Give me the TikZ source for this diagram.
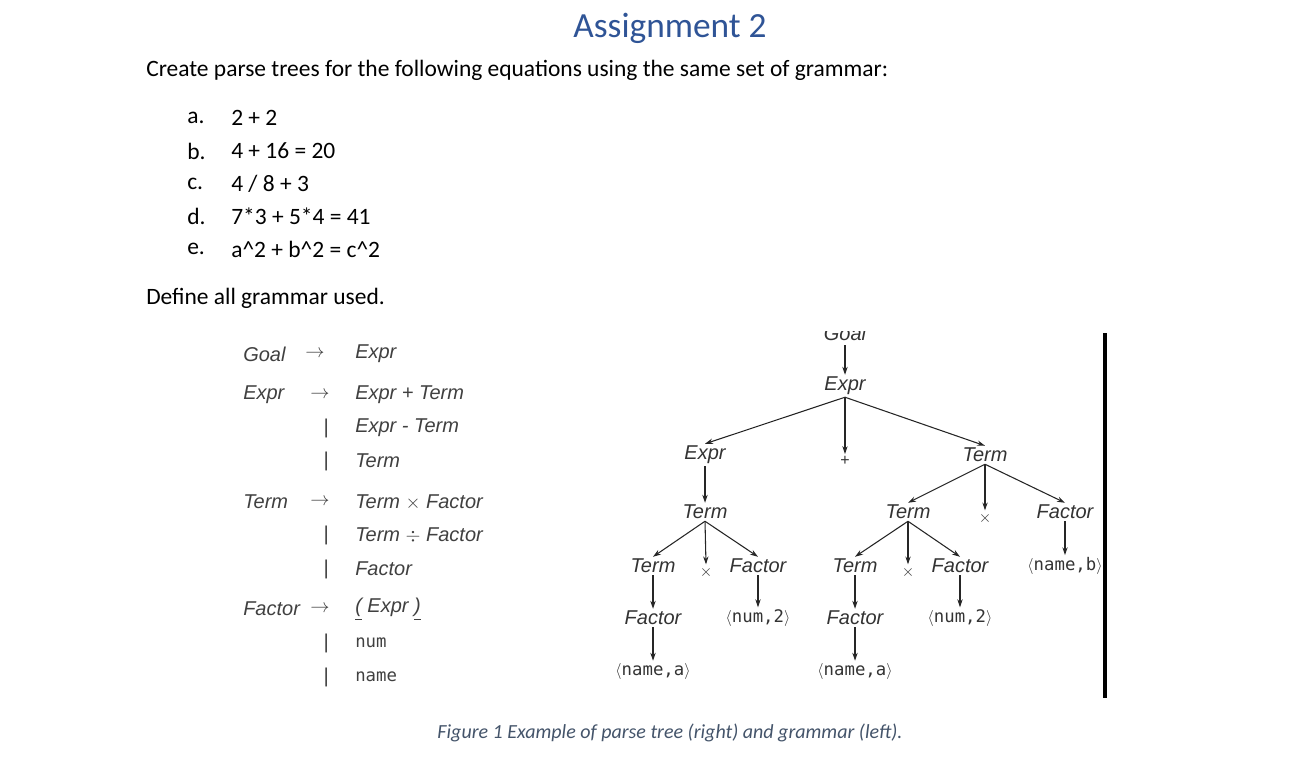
\documentclass[tikz,border=0pt]{standalone}
\usepackage{fontspec}
\setmainfont{Carlito}
\newfontfamily\gsans{Liberation Sans}
\newfontfamily\gmono{DejaVu Sans Mono}
\usetikzlibrary{arrows.meta}
\definecolor{titleblue}{RGB}{47,84,150}
\definecolor{capblue}{RGB}{68,84,106}
\begin{document}
\begin{tikzpicture}[x=0.75pt,y=-0.75pt,
  body/.style={anchor=west,inner sep=0,font=\fontsize{17.6}{20}\selectfont},
  gr/.style={anchor=west,inner sep=0,font=\gsans\itshape\fontsize{15}{17}\selectfont,text=black!75},
  gm/.style={anchor=west,inner sep=0,font=\gmono\fontsize{13}{15}\selectfont,text=black!75},
  tn/.style={inner sep=1.5pt,font=\gsans\itshape\fontsize{15}{17}\selectfont,text=black!80},
  tm/.style={inner sep=1.5pt,font=\gmono\fontsize{13}{15}\selectfont,text=black!80},
  op/.style={inner sep=1.5pt,font=\gsans\fontsize{12}{14}\selectfont,text=black!80},
  arr/.style={-{Stealth[length=6pt,width=4pt]},line width=0.8pt,black!85}]
\useasboundingbox (0,0) rectangle (1309,775);
\node[font=\fontsize{26.5}{30}\selectfont,text=titleblue] (title) at (670,28) {Assignment 2};
\node[body] (intro) at (146,70) {Create parse trees for the following equations using the same set of grammar:};
\node[body] (l1) at (187,118) {a.}; \node[body] (t1) at (231,118) {2 + 2};
\node[body] (l2) at (187,151) {b.}; \node[body] (t2) at (231,151) {4 + 16 = 20};
\node[body] (l3) at (187,184) {c.}; \node[body] (t3) at (231,184) {4 / 8 + 3};
\node[body] (l4) at (187,216) {d.}; \node[body] (t4) at (231,216) {7*3 + 5*4 = 41};
\node[body] (l5) at (187,249) {e.}; \node[body] (t5) at (231,249) {a\^{}2 + b\^{}2 = c\^{}2};
\node[body] (define) at (146,298) {Define all grammar used.};
% grammar
\node[gr] (g1) at (243,354) {Goal}; \node[gr] (a1) at (305,354) {$\rightarrow$}; \node[gr] (r1) at (355,354) {Expr};
\node[gr] (g2) at (243,395) {Expr}; \node[gr] (a2) at (310,395) {$\rightarrow$}; \node[gr] (r2) at (355,395) {Expr + Term};
\node[gr] (b3) at (323,428) {|}; \node[gr] (r3) at (355,428) {Expr - Term};
\node[gr] (b4) at (323,461) {|}; \node[gr] (r4) at (355,461) {Term};
\node[gr] (g5) at (243,502) {Term}; \node[gr] (a5) at (310,502) {$\rightarrow$}; \node[gr] (r5) at (355,502) {Term $\times$ Factor};
\node[gr] (b6) at (323,535) {|}; \node[gr] (r6) at (355,535) {Term $\div$ Factor};
\node[gr] (b7) at (323,569) {|}; \node[gr] (r7) at (355,569) {Factor};
\node[gr] (g8) at (243,609) {Factor}; \node[gr] (a8) at (310,609) {$\rightarrow$}; \node[gr] (r8) at (355,609) {\underline{(} Expr \underline{)}};
\node[gr] (b9) at (323,643) {|}; \node[gm] (r9) at (355,643) {num};
\node[gr] (b10) at (323,677) {|}; \node[gm] (r10) at (355,677) {name};
% tree
\begin{scope}
\clip (600,331) rectangle (1100,360);
\node[tn] (goal) at (845,333) {Goal};
\end{scope}
\node[tn] (e0) at (845,386) {Expr};
\node[tn] (e1) at (705,455) {Expr};
\node[op] (plus) at (845,461) {+};
\node[tn] (t0) at (985,455) {Term};
\node[tn] (t1) at (705,512) {Term};
\node[tn] (t2) at (653,566) {Term};
\node[op] (x1) at (706,572) {$\times$};
\node[tn] (f1) at (758,566) {Factor};
\node[tn] (f2) at (653,618) {Factor};
\node[tm] (na1) at (653,671) {$\langle$name,a$\rangle$};
\node[tm] (nu1) at (758,618) {$\langle$num,2$\rangle$};
\node[tn] (t3) at (908,512) {Term};
\node[op] (x2) at (985,518) {$\times$};
\node[tn] (f3) at (1065,512) {Factor};
\node[tn] (t4) at (855,566) {Term};
\node[op] (x3) at (908,572) {$\times$};
\node[tn] (f4) at (960,566) {Factor};
\node[tn] (f5) at (855,618) {Factor};
\node[tm] (na2) at (855,671) {$\langle$name,a$\rangle$};
\node[tm] (nu2) at (960,618) {$\langle$num,2$\rangle$};
\node[tm] (nb) at (1065,566) {$\langle$name,b$\rangle$};
\draw[arr] (845,345) -- (e0.north);
\foreach \p/\c in {e0/e1,e0/plus,e0/t0,e1/t1,t1/t2,t1/x1,t1/f1,t2/f2,f2/na1,f1/nu1,t0/t3,t0/x2,t0/f3,t3/t4,t3/x3,t3/f4,t4/f5,f5/na2,f4/nu2,f3/nb}
  \draw[arr] (\p.south) -- (\c.north);
\draw[line width=3.5pt] (1105,333) -- (1105,698);
\node[font=\itshape\fontsize{15}{17}\selectfont,text=capblue] (cap) at (670,733) {Figure 1 Example of parse tree (right) and grammar (left).};
\end{tikzpicture}
\end{document}
